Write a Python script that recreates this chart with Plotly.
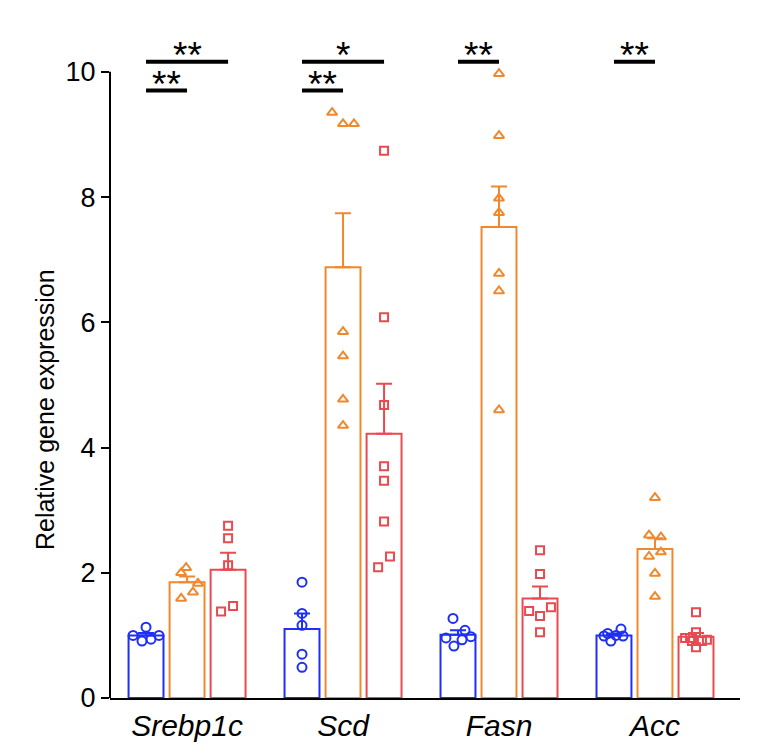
import plotly.graph_objects as go

# ---------------- data ----------------
genes = ["Srebp1c", "Scd", "Fasn", "Acc"]
group_names = ["Group 1", "Group 2", "Group 3"]

mean_g1 = [1.00, 1.10, 1.01, 1.00]
mean_g2 = [1.85, 6.88, 7.52, 2.38]
mean_g3 = [2.05, 4.22, 1.59, 0.98]

sem_g1 = [0.04, 0.25, 0.07, 0.03]
sem_g2 = [0.09, 0.86, 0.65, 0.17]
sem_g3 = [0.27, 0.80, 0.19, 0.06]

pts_g1 = [
    [1.13, 1.00, 1.00, 0.91, 0.94],
    [1.85, 1.35, 1.16, 0.70, 0.49],
    [1.27, 0.96, 0.83, 0.93, 1.08, 0.98],
    [0.99, 1.03, 0.91, 1.00, 1.10, 0.99],
]
pts_g2 = [
    [2.08, 2.00, 1.83, 1.69, 1.59],
    [9.35, 9.17, 9.17, 5.85, 5.46, 4.77, 4.35],
    [9.97, 8.98, 7.98, 7.75, 6.78, 6.50, 4.60],
    [3.20, 2.60, 2.57, 2.33, 2.26, 1.99, 1.62],
]
pts_g3 = [
    [2.75, 2.55, 2.12, 1.47, 1.38],
    [8.74, 6.08, 4.68, 3.70, 3.47, 2.82, 2.26, 2.09],
    [2.36, 1.98, 1.39, 1.45, 1.31, 1.05],
    [1.37, 1.05, 0.96, 0.91, 0.91, 0.93, 0.81, 0.96],
]

# horizontal jitter of individual points (fraction of category spacing)
jit_g1 = [
    [0.0, -0.083, 0.083, -0.026, 0.032],
    [0, 0, 0, 0, 0],
    [-0.032, -0.077, -0.026, 0.026, 0.045, 0.083],
    [-0.064, -0.04, -0.02, 0.013, 0.045, 0.058],
]
jit_g2 = [
    [-0.006, -0.038, 0.07, 0.038, -0.038],
    [-0.07, 0.0, 0.07, 0, 0, 0, 0],
    [0, 0, 0, 0, 0, 0, 0],
    [0, -0.038, 0.038, 0.038, -0.038, 0, 0],
]
jit_g3 = [
    [0, 0, 0, 0.032, -0.045],
    [0, 0, 0, 0, 0, 0, 0.038, -0.038],
    [0, 0, -0.07, 0.07, 0, 0],
    [0, 0, -0.07, -0.026, 0.038, 0.07, 0, -0.038],
]

# significance brackets: (gene index, from group, to group, level, label)
sig = [
    (0, 0, 1, 0, "**"),
    (0, 0, 2, 1, "**"),
    (1, 0, 1, 0, "**"),
    (1, 0, 2, 1, "*"),
    (2, 0, 1, 1, "**"),
    (3, 0, 1, 1, "**"),
]
sig_levels = [9.70, 10.16]

# ---------------- style ----------------
colors = ["#1f2ff5", "#f0892e", "#e94a50"]
symbols = ["circle-open", "triangle-up-open", "square-open"]
msizes = [9, 9, 8]
offsets = [-0.263, 0.0, 0.263]
bar_w = 0.224
YMAX = 10.7
FONT = "Liberation Sans, Arial, sans-serif"

means = [mean_g1, mean_g2, mean_g3]
sems = [sem_g1, sem_g2, sem_g3]
pts = [pts_g1, pts_g2, pts_g3]
jits = [jit_g1, jit_g2, jit_g3]

fig = go.Figure()

for g in range(3):
    fig.add_trace(go.Bar(
        x=[i + offsets[g] for i in range(len(genes))],
        y=means[g],
        width=bar_w,
        name=group_names[g],
        marker=dict(color="white", line=dict(color=colors[g], width=2)),
        error_y=dict(type="data", array=sems[g], arrayminus=[0] * len(genes),
                     symmetric=False, color=colors[g], thickness=2, width=8),
        showlegend=False,
    ))

for g in range(3):
    xs, ys = [], []
    for i in range(len(genes)):
        for v, j in zip(pts[g][i], jits[g][i]):
            xs.append(i + offsets[g] + j)
            ys.append(v)
    fig.add_trace(go.Scatter(
        x=xs, y=ys, mode="markers", showlegend=False,
        marker=dict(symbol=symbols[g], size=msizes[g], color=colors[g],
                    line=dict(color=colors[g], width=2)),
        cliponaxis=False,
    ))

for gi, a, b, lvl, lab in sig:
    y = sig_levels[lvl]
    x0 = gi + offsets[a]
    x1 = gi + offsets[b]
    fig.add_shape(type="line", xref="x", yref="y", x0=x0, x1=x1, y0=y, y1=y,
                  line=dict(color="black", width=4))
    fig.add_annotation(x=(x0 + x1) / 2, y=y, xref="x", yref="y", text=lab,
                       showarrow=False, yanchor="bottom", yshift=-16,
                       font=dict(family=FONT, size=37, color="black"))

# y-axis line from 0 to 10 only
fig.add_shape(type="line", xref="paper", yref="paper", x0=0, x1=0,
              y0=0, y1=10 / YMAX, line=dict(color="black", width=2))

# y-axis title
fig.add_annotation(text="Relative gene expression", textangle=-90,
                   xref="paper", yref="y", x=-0.103, y=4.6,
                   xanchor="center", yanchor="middle", showarrow=False,
                   font=dict(family=FONT, size=25, color="black"))

fig.update_layout(
    width=782, height=754,
    margin=dict(l=110, r=42, t=28, b=54),
    plot_bgcolor="white", paper_bgcolor="white",
    barmode="overlay",
    font=dict(family=FONT, color="black"),
    xaxis=dict(
        range=[-0.494, 3.545], tickvals=list(range(len(genes))),
        ticktext=["<i>%s</i>" % g for g in genes],
        showline=True, linecolor="black", linewidth=2, ticks="",
        showgrid=False, zeroline=False,
        tickfont=dict(family=FONT, size=30, color="black"),
    ),
    yaxis=dict(
        range=[0, YMAX], tickvals=[0, 2, 4, 6, 8, 10],
        showline=False, ticks="outside", ticklen=8, tickwidth=2,
        tickcolor="black", showgrid=False, zeroline=False,
        tickfont=dict(family=FONT, size=27, color="black"),
    ),
)

fig.write_html("out.html")
